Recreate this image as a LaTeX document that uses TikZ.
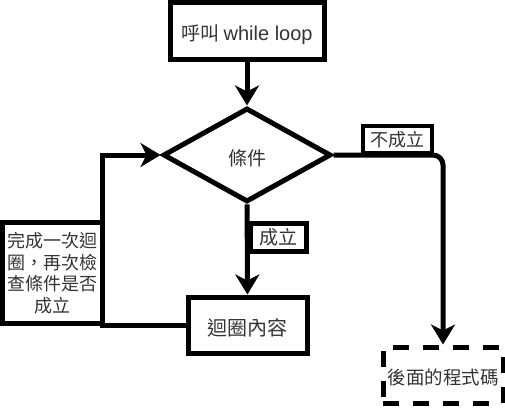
\documentclass[tikz,border=0pt]{standalone}
\usepackage{fontspec}
\setmainfont{Liberation Sans}
\newfontfamily\cjk{Noto Sans CJK TC}
\usetikzlibrary{shapes.geometric,arrows.meta}
\newcommand{\fsz}[1]{\fontsize{#1}{22pt}\selectfont\cjk}
\begin{document}
\begin{tikzpicture}[x=1pt,y=-1pt,
  box/.style={draw=black,line width=5pt,rectangle,inner sep=0pt,text=black!80,font=\fsz{19pt}},
  low/.style={text height=20pt,text depth=0pt},
  lbl/.style={draw=black,line width=4.5pt,rectangle,fill=white,inner sep=0pt,text=black!80,font=\fsz{19pt}},
  conn/.style={line width=5pt,-{Stealth[length=20pt,width=24pt,inset=6pt]}},
  plain/.style={line width=5pt}]
\useasboundingbox (0,0) rectangle (505,409);
\node[box,low,minimum width=154pt,minimum height=57pt] (start) at (247,31) {呼叫 {\rmfamily\fontsize{20pt}{22pt}\selectfont while loop}};
\node[draw=black,line width=5pt,diamond,inner sep=0pt,minimum width=168pt,minimum height=94pt,text=black!80,font=\fsz{19pt},low] (cond) at (247,155) {條件};
\node[box,low,minimum width=119pt,minimum height=56pt,font=\fsz{20pt}] (body) at (247.5,325) {迴圈內容};
\node[box,minimum width=100pt,minimum height=101pt,align=center,font=\fontsize{18pt}{21.5pt}\selectfont\cjk] (note) at (52.5,273) {完成一次迴\\圈，再次檢\\查條件是否\\成立};
\node[box,dash pattern=on 16pt off 14pt,minimum width=120pt,minimum height=56pt,font=\fsz{18.5pt},text height=18pt,text depth=0pt] (after) at (443,375) {後面的程式碼};
\draw[conn] (start) -- (cond);
\draw[conn] (cond) -- (body);
\coordinate (lb) at (102.5,325);
\coordinate (lt) at (102.5,155);
\draw[conn,line join=miter] (body.west) -- (lb) -- (lt) -- (cond.west);
\coordinate (rc) at (443,155);
\draw[conn,rounded corners=10pt] (cond.east) -- (rc) -- (after.north);
\node[lbl,minimum width=69pt,minimum height=27pt,font=\fsz{18pt}] (no) at (397.5,139.5) {不成立};
\node[lbl,minimum width=56pt,minimum height=28pt] (yes) at (278.5,237.5) {成立};
\end{tikzpicture}
\end{document}
